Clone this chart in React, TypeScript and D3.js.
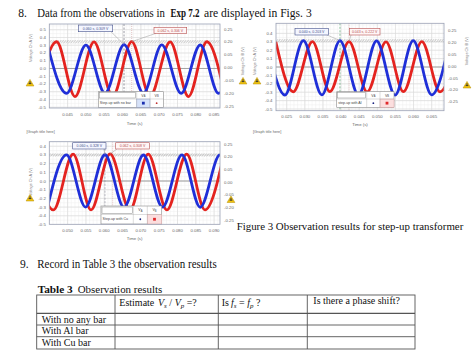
import React from "react";
import * as d3 from "d3";

const SERIF = "'Liberation Serif', 'Times New Roman', serif";
const SANS = "'Liberation Sans', Arial, sans-serif";

// ---------------- shared tick labels ----------------
const rightTickLabels = ["0.25", "0.20", "0.05", "0.00", "-0.05", "-0.20", "-0.25"];

// ---------------- Chart 1: step-up with no bar ----------------
const c1XTicks = ["0.045", "0.050", "0.055", "0.060", "0.065", "0.070", "0.075", "0.080", "0.085"];
const c1YTicks = ["0.5", "0.4", "0.3", "0.2", "0.1", "0.0", "-0.1", "-0.2", "-0.3", "-0.4", "-0.5"];
const c1BlueT = [0.0395, 0.0447, 0.05, 0.0552, 0.0604, 0.0657, 0.0707, 0.076, 0.0812, 0.0862, 0.0914];
const c1BlueV = [0.305, -0.322, 0.302, -0.32, 0.309, -0.318, 0.304, -0.322, 0.303, -0.32, 0.305];
const c1RedT = [0.0367, 0.042, 0.047, 0.0522, 0.0573, 0.0625, 0.0675, 0.073, 0.078, 0.083, 0.088];
const c1RedV = [-0.36, 0.345, -0.362, 0.343, -0.36, 0.346, -0.358, 0.344, -0.362, 0.345, -0.36];
const c1Tips = ["0.060 s, 0.309 V", "0.062 s, 0.306 V"];
const c1Legend = "Step-up with no bar";

// ---------------- Chart 2: step-up with Al ----------------
const c2XTicks = ["0.025", "0.030", "0.035", "0.040", "0.045", "0.050", "0.055", "0.060", "0.065"];
const c2YTicks = ["0.4", "0.3", "0.2", "0.1", "0.0", "-0.1", "-0.2", "-0.3", "-0.4", "-0.5"];
const c2BlueT = [0.0195, 0.0245, 0.0296, 0.0347, 0.0397, 0.0448, 0.0498, 0.0549, 0.0599, 0.065, 0.07];
const c2BlueV = [0.313, -0.333, 0.313, -0.332, 0.315, -0.333, 0.312, -0.334, 0.313, -0.332, 0.313];
const c2RedT = [0.022, 0.0268, 0.0321, 0.0369, 0.0422, 0.0472, 0.0524, 0.0572, 0.0623, 0.0673, 0.0724];
const c2RedV = [0.3, -0.295, 0.302, -0.294, 0.301, -0.296, 0.3, -0.294, 0.302, -0.295, 0.3];
const c2Tips = ["0.040 s, 0.203 V", "0.043 s, 0.222 V"];
const c2Legend = "step-up with Al";

// ---------------- Chart 3: step-up with Cu ----------------
const c3XTicks = ["0.050", "0.055", "0.060", "0.065", "0.070", "0.075", "0.080", "0.085", "0.090"];
const c3YTicks = ["0.4", "0.3", "0.2", "0.1", "0.0", "-0.1", "-0.2", "-0.3", "-0.4", "-0.5"];
const c3BlueT = [0.0445, 0.0497, 0.0549, 0.0602, 0.0654, 0.0707, 0.0759, 0.0812, 0.0862, 0.0916, 0.0968];
const c3BlueV = [-0.302, 0.3, -0.3, 0.302, -0.303, 0.299, -0.301, 0.3, -0.302, 0.3, -0.3];
const c3RedT = [0.0408, 0.0461, 0.0515, 0.0564, 0.0616, 0.067, 0.072, 0.0771, 0.0825, 0.0875, 0.0927];
const c3RedV = [0.31, -0.333, 0.31, -0.332, 0.311, -0.334, 0.309, -0.333, 0.31, -0.332, 0.31];
const c3Tips = ["0.060 s, 0.328 V", "0.062 s, 0.308 V"];
const c3Legend = "Step-up with Cu";

// ---------------- table ----------------
const tableRows = ["With no any bar", "With Al bar", "With Cu bar"];

type Tip = { text: string; box: number[]; from: number[]; at: number[]; color: string; fill: string };
type Cfg = {
  id: string;
  f: { x0: number; x1: number; y0: number; y1: number };
  xDomain: [number, number];
  yDomain: [number, number];
  xTicks: string[];
  yTicks: string[];
  rightRange: [number, number];
  blue: { t: number[]; v: number[] };
  red: { t: number[]; v: number[] };
  hatch: number;
  cursors: { t: number; color: string; dash: string }[];
  tips: Tip[];
  legend: { x0: number; y0: number; cols: number[]; rows: number[]; label: string; hi: "A" | "B"; aMarker: string; bMarker: string };
  timeY: number;
};

const BLUE = "#1f2fd8";
const RED = "#e4231f";

const charts: Cfg[] = [
  {
    id: "c1",
    f: { x0: 49.3, x1: 220, y0: 24, y1: 108 },
    xDomain: [0.04, 0.0866],
    yDomain: [-0.51, 0.574],
    xTicks: c1XTicks,
    yTicks: c1YTicks,
    rightRange: [29, 106],
    blue: { t: c1BlueT, v: c1BlueV },
    red: { t: c1RedT, v: c1RedV },
    hatch: 0.345,
    cursors: [
      { t: 0.0604, color: "#556", dash: "2,1.5" },
      { t: 0.0625, color: "#c99", dash: "1,1" },
    ],
    tips: [
      { text: c1Tips[0], box: [78.3, 25, 112.7, 31.7], from: [111, 31.7], at: [0.0604, 0.309], color: "#44508a", fill: "#f4f6ff" },
      { text: c1Tips[1], box: [154, 27.3, 186.7, 33.3], from: [156, 33.3], at: [0.0625, 0.346], color: "#b85050", fill: "#fff6f6" },
    ],
    legend: { x0: 98.3, y0: 91.7, cols: [38.4, 13.3, 13.3], rows: [7.3, 8.3], label: c1Legend, hi: "A", aMarker: "square", bMarker: "dot" },
    timeY: 123,
  },
  {
    id: "c2",
    f: { x0: 276, x1: 444, y0: 23.3, y1: 110.7 },
    xDomain: [0.02205, 0.0684],
    yDomain: [-0.52, 0.52],
    xTicks: c2XTicks,
    yTicks: c2YTicks,
    rightRange: [30.7, 101.7],
    blue: { t: c2BlueT, v: c2BlueV },
    red: { t: c2RedT, v: c2RedV },
    hatch: 0.313,
    cursors: [
      { t: 0.0397, color: "#3a9a5a", dash: "2,1.5" },
      { t: 0.0422, color: "#c99", dash: "1,1" },
    ],
    tips: [
      { text: c2Tips[0], box: [295, 28.3, 328.3, 35], from: [327, 35], at: [0.0397, 0.315], color: "#44508a", fill: "#f4f6ff" },
      { text: c2Tips[1], box: [349.3, 28.3, 380, 35], from: [351, 35], at: [0.0422, 0.301], color: "#b85050", fill: "#fff6f6" },
    ],
    legend: { x0: 336.7, y0: 91.7, cols: [30, 13.3, 14], rows: [7.3, 8.3], label: c2Legend, hi: "B", aMarker: "dot", bMarker: "square" },
    timeY: 124,
  },
  {
    id: "c3",
    f: { x0: 49.3, x1: 220, y0: 141.7, y1: 224.3 },
    xDomain: [0.045, 0.0916],
    yDomain: [-0.498, 0.452],
    xTicks: c3XTicks,
    yTicks: c3YTicks,
    rightRange: [144, 220],
    blue: { t: c3BlueT, v: c3BlueV },
    red: { t: c3RedT, v: c3RedV },
    hatch: 0.3,
    cursors: [
      { t: 0.0602, color: "#889", dash: "2,1.5" },
      { t: 0.0623, color: "#c99", dash: "1,1" },
    ],
    tips: [
      { text: c3Tips[0], box: [72.7, 142.7, 106, 149], from: [104, 149], at: [0.0602, 0.302], color: "#44508a", fill: "#f4f6ff" },
      { text: c3Tips[1], box: [115.7, 142.7, 149.3, 149], from: [117, 149], at: [0.0616, 0.311], color: "#b85050", fill: "#fff6f6" },
    ],
    legend: { x0: 101, y0: 206, cols: [32.3, 14, 14.4], rows: [8.5, 9.5], label: c3Legend, hi: "B", aMarker: "dot", bMarker: "square" },
    timeY: 238.7,
  },
];

function Warn({ cx, cy }: { cx: number; cy: number }) {
  return (
    <g transform={`translate(${cx},${cy})`}>
      <path d="M0,-3.6 L3.9,3 L-3.9,3 Z" fill="#f2c40f" stroke="#b58c00" strokeWidth={0.5} />
      <rect x={-0.5} y={-1.7} width={1} height={2.6} fill="#333" />
      <rect x={-1.4} y={0.2} width={2.8} height={0.9} fill="#333" />
    </g>
  );
}

function Legend({ l }: { l: Cfg["legend"] }) {
  const [w0, w1, w2] = l.cols;
  const [h0, h1] = l.rows;
  const W = w0 + w1 + w2;
  const H = h0 + h1;
  const ax = l.x0 + w0 + w1 / 2;
  const bx = l.x0 + w0 + w1 + w2 / 2;
  const my = l.y0 + h0 + h1 / 2;
  const marker = (kind: string, cx: number, color: string) =>
    kind === "square" ? (
      <rect x={cx - 1.4} y={my - 1.4} width={2.8} height={2.8} fill={color} />
    ) : (
      <circle cx={cx} cy={my} r={0.9} fill={color} />
    );
  return (
    <g fontFamily={SANS} fontSize={3.6} fill="#444">
      <rect x={l.x0} y={l.y0} width={W} height={H} fill="#fff" stroke="#8a8a8a" strokeWidth={0.6} />
      {l.hi === "A" ? (
        <rect x={l.x0 + w0} y={l.y0 + h0} width={w1} height={h1} fill="#d6e2fa" stroke="#8899cc" strokeWidth={0.4} />
      ) : (
        <rect x={l.x0 + w0 + w1} y={l.y0 + h0} width={w2} height={h1} fill="#fbdede" stroke="#d99" strokeWidth={0.4} />
      )}
      <rect x={l.x0 + 1} y={l.y0 + 1} width={w0 - 2} height={h0 - 2} fill="#fff" stroke="#888" strokeWidth={0.5} />
      <line x1={l.x0} x2={l.x0 + W} y1={l.y0 + h0} y2={l.y0 + h0} stroke="#aaa" strokeWidth={0.4} />
      <line x1={l.x0 + w0} x2={l.x0 + w0} y1={l.y0} y2={l.y0 + H} stroke="#aaa" strokeWidth={0.4} />
      <line x1={l.x0 + w0 + w1} x2={l.x0 + w0 + w1} y1={l.y0} y2={l.y0 + H} stroke="#aaa" strokeWidth={0.4} />
      <text x={ax} y={l.y0 + h0 / 2 + 1.2} textAnchor="middle">
        V<tspan fontSize={2.6} dy={0.6}>A</tspan>
      </text>
      <text x={bx} y={l.y0 + h0 / 2 + 1.2} textAnchor="middle">
        V<tspan fontSize={2.6} dy={0.6}>B</tspan>
      </text>
      <text x={l.x0 + 1.5} y={my + 1.2}>{l.label}</text>
      {marker(l.aMarker, ax, l.aMarker === "square" ? "#1a2fb0" : "#1b2480")}
      {marker(l.bMarker, bx, l.bMarker === "square" ? "#e0282a" : "#c03030")}
    </g>
  );
}

function Chart({ c }: { c: Cfg }) {
  const { f } = c;
  const x = d3.scaleLinear().domain(c.xDomain).range([f.x0, f.x1]);
  const y = d3.scaleLinear().domain(c.yDomain).range([f.y1, f.y0]);
  const yr = d3.scalePoint<string>().domain(rightTickLabels).range(c.rightRange);
  const line = d3
    .line<[number, number]>()
    .x((d) => x(d[0]))
    .y((d) => y(d[1]))
    .curve(d3.curveMonotoneX);
  const xMajor = c.xTicks.map(Number);
  const yMajor = c.yTicks.map(Number);
  const xMinor = x.ticks(46);
  const yMinor = y.ticks(20);
  const clip = `clip-${c.id}`;
  const bluePts = c.blue.t.map((t, i) => [t, c.blue.v[i]] as [number, number]);
  const redPts = c.red.t.map((t, i) => [t, c.red.v[i]] as [number, number]);
  const hy = y(c.hatch);
  return (
    <g>
      <defs>
        <clipPath id={clip}>
          <rect x={f.x0} y={f.y0} width={f.x1 - f.x0} height={f.y1 - f.y0} />
        </clipPath>
      </defs>
      <rect x={f.x0} y={f.y0} width={f.x1 - f.x0} height={f.y1 - f.y0} fill="#fff" />
      <g clipPath={`url(#${clip})`}>
        {xMinor.map((t, i) => (
          <line key={"xm" + i} x1={x(t)} x2={x(t)} y1={f.y0} y2={f.y1} stroke="#efefef" strokeWidth={0.5} />
        ))}
        {yMinor.map((v, i) => (
          <line key={"ym" + i} x1={f.x0} x2={f.x1} y1={y(v)} y2={y(v)} stroke="#efefef" strokeWidth={0.5} />
        ))}
        {xMajor.map((t, i) => (
          <line key={"xM" + i} x1={x(t)} x2={x(t)} y1={f.y0} y2={f.y1} stroke="#d8d8d8" strokeWidth={0.6} />
        ))}
        {yMajor.map((v, i) => (
          <line key={"yM" + i} x1={f.x0} x2={f.x1} y1={y(v)} y2={y(v)} stroke="#d8d8d8" strokeWidth={0.6} />
        ))}
        <line x1={f.x0} x2={f.x1} y1={y(0)} y2={y(0)} stroke="#9a9a9a" strokeWidth={0.9} />
        <rect x={f.x0} y={hy - 1.6} width={f.x1 - f.x0} height={3.2} fill="url(#hatch)" />
        {c.cursors.map((cu, i) => (
          <line key={"cu" + i} x1={x(cu.t)} x2={x(cu.t)} y1={f.y0} y2={f.y1} stroke={cu.color} strokeWidth={0.6} strokeDasharray={cu.dash} />
        ))}
        <path d={line(redPts) ?? ""} fill="none" stroke={RED} strokeWidth={2.8} strokeLinejoin="round" />
        <path d={line(bluePts) ?? ""} fill="none" stroke={BLUE} strokeWidth={2.8} strokeLinejoin="round" />
      </g>
      {c.tips.map((tp, i) => (
        <g key={"tip" + i}>
          <line x1={tp.from[0]} y1={tp.from[1]} x2={x(tp.at[0])} y2={y(tp.at[1])} stroke="#999" strokeWidth={0.5} />
          <rect x={tp.box[0]} y={tp.box[1]} width={tp.box[2] - tp.box[0]} height={tp.box[3] - tp.box[1]} fill={tp.fill} stroke={tp.color} strokeWidth={0.6} />
          <text x={(tp.box[0] + tp.box[2]) / 2} y={(tp.box[1] + tp.box[3]) / 2 + 1.2} textAnchor="middle" fontFamily={SANS} fontSize={3.5} fill={tp.color}>
            {tp.text}
          </text>
        </g>
      ))}
      <Legend l={c.legend} />
      <rect x={f.x0} y={f.y0} width={f.x1 - f.x0} height={f.y1 - f.y0} fill="none" stroke="#9aa0b4" strokeWidth={0.8} />
      <g fontFamily={SANS} fontSize={4.3} fill="#666">
        {c.xTicks.map((s, i) => (
          <text key={"xt" + i} x={x(xMajor[i])} y={f.y1 + 7.6} textAnchor="middle">
            {s}
          </text>
        ))}
        {c.yTicks.map((s, i) => (
          <text key={"yt" + i} x={f.x0 - 3.5} y={y(yMajor[i]) + 1.5} textAnchor="end">
            {s}
          </text>
        ))}
        {rightTickLabels.map((s, i) => (
          <text key={"rt" + i} x={f.x1 + 4} y={(yr(s) ?? 0) + 1.5} textAnchor="start">
            {s}
          </text>
        ))}
        <text x={(f.x0 + f.x1) / 2} y={c.timeY + 1.5} textAnchor="middle">
          Time (s)
        </text>
      </g>
    </g>
  );
}

function VTitle({ x, y, text }: { x: number; y: number; text: string }) {
  return (
    <text transform={`translate(${x},${y}) rotate(-90)`} textAnchor="middle" fontFamily={SANS} fontSize={3.8} fill="#777">
      {text}
    </text>
  );
}

export default function App() {
  const tl = 36.7, tr = 415;
  const rowY = [295, 313.3, 325, 336.7, 349];
  const colX = [36.7, 115, 218.3, 307.3, 415];
  return (
    <svg width={474} height={353} style={{ position: "absolute", left: 0, top: 0, background: "#fff" }}>
      <defs>
        <pattern id="hatch" width={2.4} height={3.2} patternUnits="userSpaceOnUse">
          <line x1={0} y1={3.2} x2={2.4} y2={0} stroke="#9a9a9a" strokeWidth={0.6} />
        </pattern>
      </defs>
      <rect width={474} height={353} fill="#fff" />

      {/* header line 8 */}
      <g fontFamily={SERIF} fontSize={11.5} fill="#111">
        <text x={18.3} y={17.3}>8.</text>
        <text x={37.3} y={17.3} textLength={127.5} lengthAdjust="spacingAndGlyphs">Data from the observations in</text>
        <text x={170.5} y={17.3} fontWeight="bold" textLength={29} lengthAdjust="spacingAndGlyphs">Exp 7.2</text>
        <text x={204} y={17.3} textLength={107.7} lengthAdjust="spacingAndGlyphs">are displayed in Figs. 3</text>
      </g>

      {charts.map((c) => (
        <Chart key={c.id} c={c} />
      ))}

      {/* axis titles and icons */}
      <VTitle x={32} y={48} text="Voltage Ch A (V)" />
      <VTitle x={32} y={182} text="Voltage Ch A (V)" />
      <VTitle x={243.5} y={61} text="Voltage Ch B (V)" />
      <VTitle x={256} y={61} text="Voltage Ch A (V)" />
      <VTitle x={467.5} y={51} text="Voltage Ch B (V)" />
      <Warn cx={30} cy={83} />
      <Warn cx={30} cy={198} />
      <Warn cx={243} cy={81} />
      <Warn cx={257} cy={81} />
      <Warn cx={467} cy={85} />
      <Warn cx={231} cy={199.5} />

      <g fontFamily={SANS} fontSize={3.8} fill="#666">
        <text x={26.5} y={132.5}>[Graph title here]</text>
        <text x={253} y={133}>[Graph title here]</text>
      </g>

      {/* caption */}
      <text x={236.7} y={229.8} fontFamily={SERIF} fontSize={11} fill="#111" textLength={226.6} lengthAdjust="spacingAndGlyphs">
        Figure 3 Observation results for step-up transformer
      </text>

      {/* section 9 */}
      <g fontFamily={SERIF} fill="#111">
        <text x={20} y={268.3} fontSize={11.5}>9.</text>
        <text x={37.3} y={268.3} fontSize={11.5} textLength={179.4} lengthAdjust="spacingAndGlyphs">
          Record in Table 3 the observation results
        </text>
        <text x={37.7} y={292.8} fontSize={11} fontWeight="bold" textLength={35} lengthAdjust="spacingAndGlyphs">Table 3</text>
        <text x={77.7} y={292.8} fontSize={11} textLength={84.6} lengthAdjust="spacingAndGlyphs">Observation results</text>
      </g>

      {/* table */}
      <g stroke="#555" strokeWidth={0.9} fill="none">
        <rect x={tl} y={rowY[0]} width={tr - tl} height={rowY[4] - rowY[0]} />
        {rowY.slice(1, 4).map((yy, i) => (
          <line key={"r" + i} x1={tl} x2={tr} y1={yy} y2={yy} strokeWidth={i === 0 ? 1.3 : 0.9} />
        ))}
        {colX.slice(1, 4).map((xx, i) => (
          <line key={"c" + i} x1={xx} x2={xx} y1={rowY[0]} y2={rowY[4]} />
        ))}
      </g>
      <g fontFamily={SERIF} fontSize={10} fill="#111">
        <text x={119.3} y={305.7}>
          Estimate
          <tspan x={158} fontStyle="italic">V</tspan>
          <tspan fontStyle="italic" fontSize={7} dy={2}>s</tspan>
          <tspan dy={-2}> / </tspan>
          <tspan fontStyle="italic">V</tspan>
          <tspan fontStyle="italic" fontSize={7} dy={2}>p</tspan>
          <tspan dy={-2}> =?</tspan>
        </text>
        <text x={221.7} y={305.7}>
          Is
          <tspan x={231} fontStyle="italic">f</tspan>
          <tspan fontStyle="italic" fontSize={7} dy={2}>s</tspan>
          <tspan dy={-2}> = </tspan>
          <tspan fontStyle="italic">f</tspan>
          <tspan fontStyle="italic" fontSize={7} dy={2}>p</tspan>
          <tspan dy={-2}> ?</tspan>
        </text>
        <text x={313.3} y={304}>Is there a phase shift?</text>
        {tableRows.map((r, i) => (
          <text key={r} x={41.7} y={[322.7, 334.2, 346][i]}>
            {r}
          </text>
        ))}
      </g>
    </svg>
  );
}
